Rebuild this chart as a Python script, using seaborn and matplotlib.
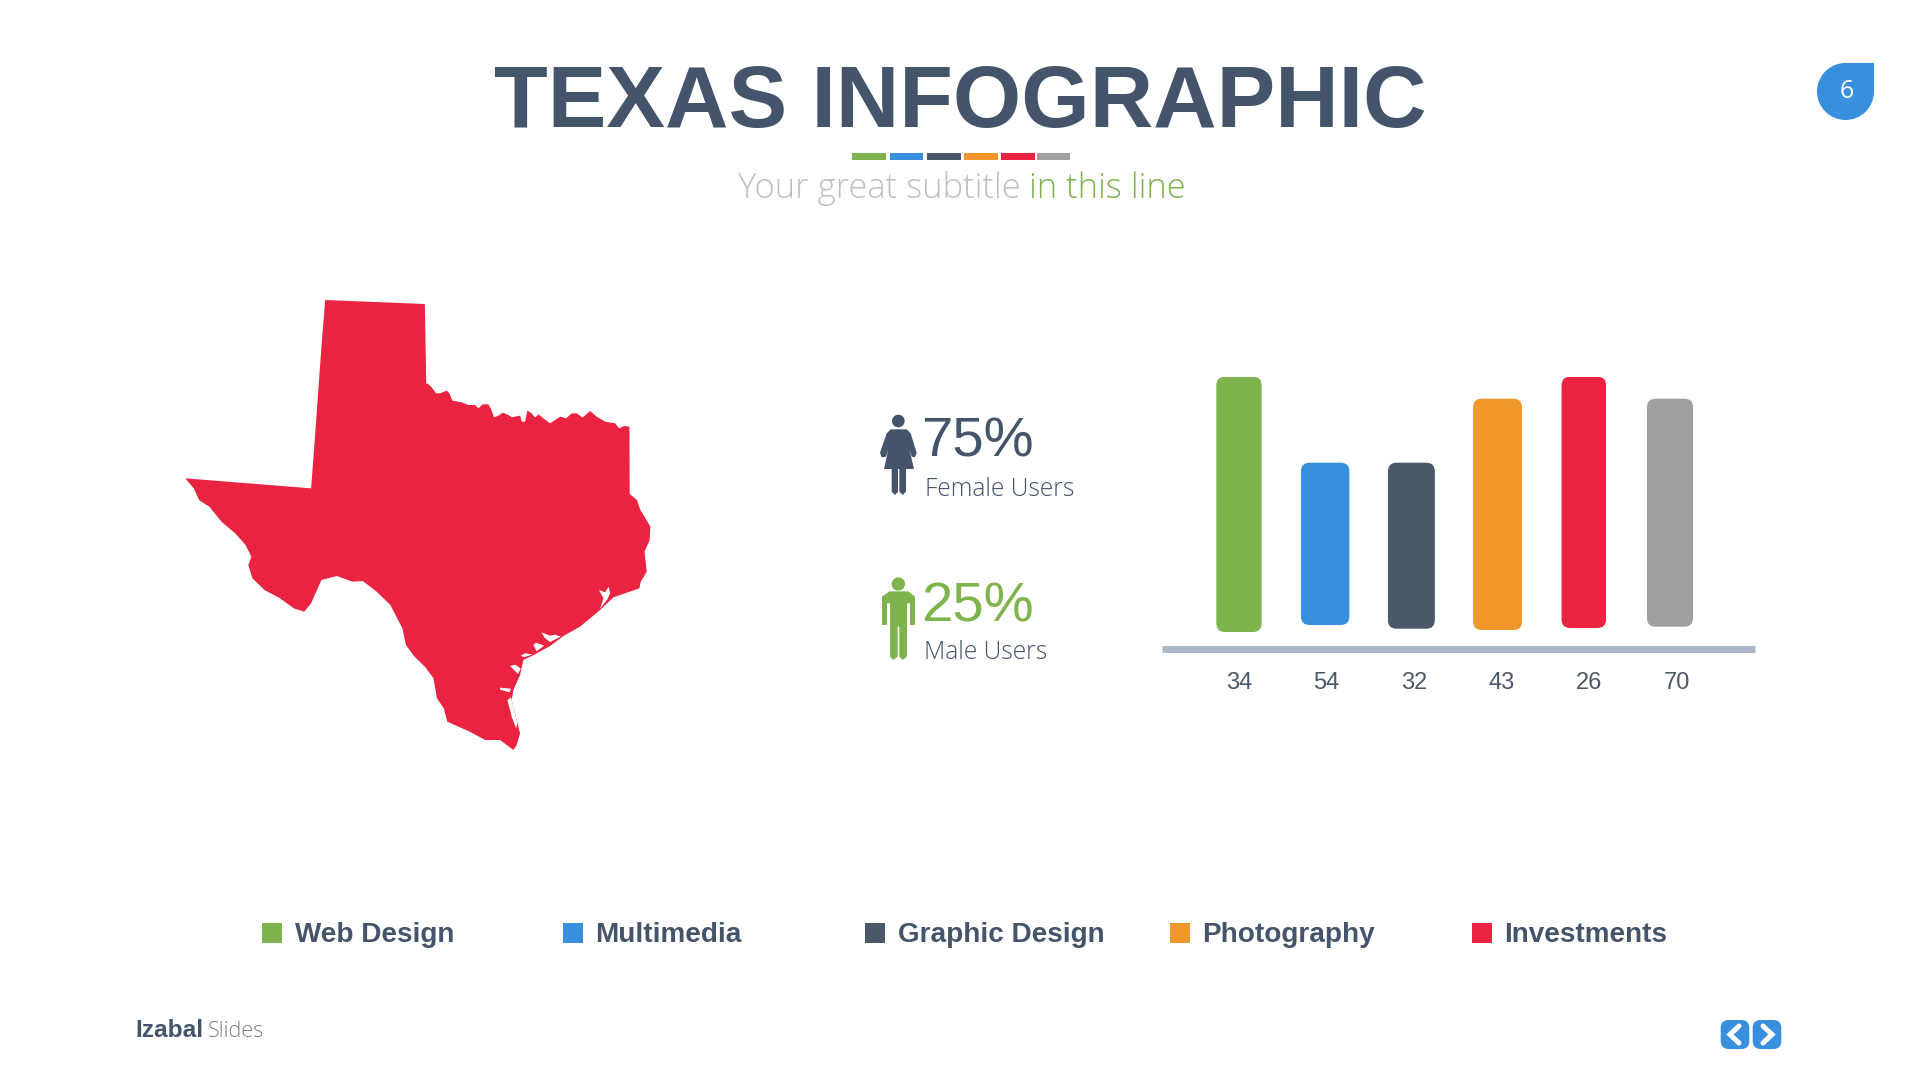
import matplotlib
matplotlib.use("Agg")
import matplotlib.pyplot as plt
from matplotlib.patches import FancyBboxPatch, Polygon, Circle, Rectangle
from matplotlib.transforms import ScaledTranslation
from matplotlib.font_manager import FontProperties
import seaborn as sns

# ---- data ----
bar_labels = ["34", "54", "32", "43", "26", "70"]
bar_heights = [255.3, 162.3, 166.0, 231.3, 251.3, 228.0]
bar_offsets = [16.5, 23.5, 19.8, 18.5, 20.5, 21.8]
bar_colors = ["#7FB34D", "#388FDD", "#4A5868", "#F0982B", "#EA2340", "#A0A0A0"]
legend_names = ["Web Design", "Multimedia", "Graphic Design", "Photography", "Investments"]
gender_pct = ["75%", "25%"]
gender_names = ["Female Users", "Male Users"]

north_a = [(22,40),(35,52),(48,70),(60,70),(80,62),(88,70),(97,92),(125,97),(145,105),(165,105),(175,115),(188,103),
           (205,103),(213,117),(222,142),(235,137),(248,128),(265,135),(275,142),(300,137),(305,155),(315,155),(322,122),
           (335,130),(345,143),(355,133),(370,145),(390,160),(405,150),(420,140),(438,145),(455,130),(470,130),(487,143),
           (510,123),(530,140),(555,155),(585,160),(597,175),(612,168),(628,170)]
coast_b = [(440,35),(422,65),(418,85),(340,112),(300,150),(240,200),(190,228),(150,258),(105,283),(70,300),(60,345),
           (40,390),(35,420),(60,520),(50,555),(40,570),(0,540)]
bays_b = [[(297,90),(315,97),(326,80),(330,100),(322,118),(300,146),(310,115)],
          [(124,217),(150,227),(165,224),(182,230),(150,246),(135,235)],
          [(100,255),(108,248),(132,257),(110,274)],
          [(62,287),(75,280),(98,283),(72,292)],
          [(30,318),(45,314),(62,325),(54,342),(45,333)],
          [(0,383),(33,386),(28,397),(0,389)],
          [(22,420),(33,412),(52,490),(48,505),(35,470)]]
panhandle = [(511,90),(800,102),(804,342)]
east_edge = [(1394,672),(1415,690),(1425,720),(1437,740),(1454,770),(1452,810),(1437,845)]
southwest = [(975,1410),(930,1385),(865,1355),(855,1315),(835,1285),(825,1225),(800,1190),(770,1160),(745,1125),
             (735,1075),(700,1005),(660,965),(620,933),(590,935),(545,918),(500,930),(485,965),(470,1000),(450,1025),
             (420,1015),(380,985),(335,960),(300,925),(288,885),(297,860),(280,825),(250,790),(210,755),(175,710),
             (145,690),(130,655),(105,625),(470,655),(480,520),(500,230)]
def from_a(p): return (786 + 0.967 * p[0], 300 + p[1])
def from_b(p): return (1018 + 0.967 * p[0], 870 + p[1])
outline = panhandle + [from_a(p) for p in north_a] + east_edge + [from_b(p) for p in coast_b] + southwest
map_x = [p[0] for p in outline]
map_y = [p[1] for p in outline]

NAVY = "#44546A"
GREEN = bar_colors[0]
BLUE = bar_colors[1]

sns.set_theme(style="white")
plt.rcParams["font.family"] = ["Liberation Sans", "DejaVu Sans"]
fig = plt.figure(figsize=(19.2, 10.8), dpi=100, facecolor="white")
W, H = 1920.0, 1080.0
def box(x0, y0, x1, y1):
    return [x0 / W, 1 - y1 / H, (x1 - x0) / W, (y1 - y0) / H]

pg = fig.add_axes([0, 0, 1, 1])
pg.set_xlim(0, W); pg.set_ylim(H, 0); pg.axis("off")
light = FontProperties(family="Open Sans", weight="light")
def t(x, y, s, size, color, weight="normal", ha="left", va="baseline", fp=None):
    if fp is not None:
        f = fp.copy(); f.set_size(size)
        return pg.text(x, y, s, color=color, ha=ha, va=va, fontproperties=f)
    return pg.text(x, y, s, fontsize=size, color=color, fontweight=weight, ha=ha, va=va)

t(960.5, 127.5, "TEXAS INFOGRAPHIC", 63.3, NAVY, "bold", "center")
strip = [(852, 885.5), (889.5, 923), (926.5, 961), (964, 997.5), (1001, 1034.5), (1037, 1070)]
for (a, b), c in zip(strip, bar_colors):
    pg.add_patch(Rectangle((a, 153), b - a, 7, color=c, lw=0))
t(1020.5, 198, "Your great subtitle", 24.8, "#BFBFBF", ha="right", fp=light)
t(1029, 198, "in this line", 24.8, GREEN, fp=light)

# badge
pg.add_patch(Circle((1845.5, 91.5), 28.5, color=BLUE, lw=0))
pg.add_patch(Rectangle((1845.5, 63), 28.5, 28.5, color=BLUE, lw=0))
t(1846.5, 91, "6", 18, "white", ha="center", va="center", fp=FontProperties(family="Open Sans"))

# gender icons
def zx(x): return 860 + x / 3
def zy(y): return 390 + y / 3
woman = [(92,118),(140,118),(152,130),(170,188),(165,202),(155,200),(148,178),(162,237),(138,237),(138,305),(128,315),
         (118,305),(118,237),(114,237),(114,305),(105,315),(95,305),(95,237),(72,237),(85,178),(78,200),(65,202),(60,188),(80,130)]
man = [(88,604),(145,604),(165,620),(165,705),(150,705),(150,640),(141,640),(141,800),(128,810),(118,800),(118,710),
       (113,710),(113,800),(100,810),(90,800),(90,640),(81,640),(81,705),(66,705),(66,620)]
for pts, head, col in [(woman, (115, 93, 19), NAVY), (man, (115, 582, 20), GREEN)]:
    pg.add_patch(Polygon([(zx(a), zy(b)) for a, b in pts], closed=True, color=col, lw=0))
    pg.add_patch(Circle((zx(head[0]), zy(head[1])), head[2] / 3, color=col, lw=0))
t(921, 456.7, gender_pct[0], 40.5, NAVY)
t(921, 621, gender_pct[1], 40.5, GREEN)
t(925, 495.7, gender_names[0], 17.7, NAVY, fp=light)
t(924, 659, gender_names[1], 17.7, NAVY, fp=light)

# legend row
sq_x = [262, 563, 864.5, 1170, 1472]
tx_x = [295, 595.5, 897.5, 1202, 1504.5]
for name, c, a, b in zip(legend_names, bar_colors, sq_x, tx_x):
    pg.add_patch(Rectangle((a, 923), 20, 20, color=c, lw=0))
    t(b, 942.5, name, 20.1, NAVY, "bold")

# footer
t(135, 1037, "Izabal", 17.6, NAVY, "bold")
t(208, 1037, "Slides", 15.5, "#7F7F7F", fp=light)
for a, pts in [(1720.7, [(1739, 1026), (1730, 1034.5), (1739, 1043)]), (1752.7, [(1763, 1026), (1772, 1034.5), (1763, 1043)])]:
    pg.add_patch(FancyBboxPatch((a, 1020), 28.6, 29, boxstyle="round,pad=0,rounding_size=8", color=BLUE, lw=0))
    pg.plot([p[0] for p in pts], [p[1] for p in pts], color="white", lw=3.6, solid_capstyle="round", solid_joinstyle="miter")

# Texas
mp = fig.add_axes(box(149, 270, 689, 770))
mp.set_xlim(0, 1566); mp.set_ylim(1500, 0); mp.axis("off")
mp.fill(map_x, map_y, color="#EA2340", lw=0)
for bay in bays_b:
    pts = [from_b(p) for p in bay]
    mp.fill([p[0] for p in pts], [p[1] for p in pts], color="white", lw=0)

# bar chart
ax = fig.add_axes(box(1162, 376.5, 1755, 648.5))
sns.barplot(x=bar_labels, y=bar_heights, hue=bar_labels, order=bar_labels, hue_order=bar_labels,
            palette=bar_colors, legend=False, width=0.54, saturation=1, ax=ax)
unit = 86.2
ax.set_xlim(-0.893, 5.986)
ax.set_ylim(0, 272)
bar_px = [45.3, 48.4, 46.9, 48.9, 44.5, 46.1]
for p, c, w, off in zip(list(ax.patches), bar_colors, bar_px, bar_offsets):
    x, h = p.get_x() + p.get_width() / 2, p.get_height()
    w = w / unit
    p.remove()
    ax.add_patch(FancyBboxPatch((x - w / 2, off), w, h, boxstyle="round,pad=0,rounding_size=0.1",
                                mutation_aspect=unit, color=c, lw=0))
sns.despine(ax=ax, left=True)
ax.patch.set_alpha(0)
ax.spines["bottom"].set_color("#A9B7C8")
ax.spines["bottom"].set_linewidth(5)
ax.spines["bottom"].set_capstyle("butt")
ax.set_yticks([])
ax.tick_params(axis="x", length=0, pad=16.7)
for i, lab in enumerate(ax.get_xticklabels()):
    lab.set_fontsize(17)
    lab.set_color("#4A5868")
    lab.set_transform(lab.get_transform() + ScaledTranslation(1.3 * i / 100, 0, fig.dpi_scale_trans))

fig.savefig("out.png", dpi=100, facecolor="white")
